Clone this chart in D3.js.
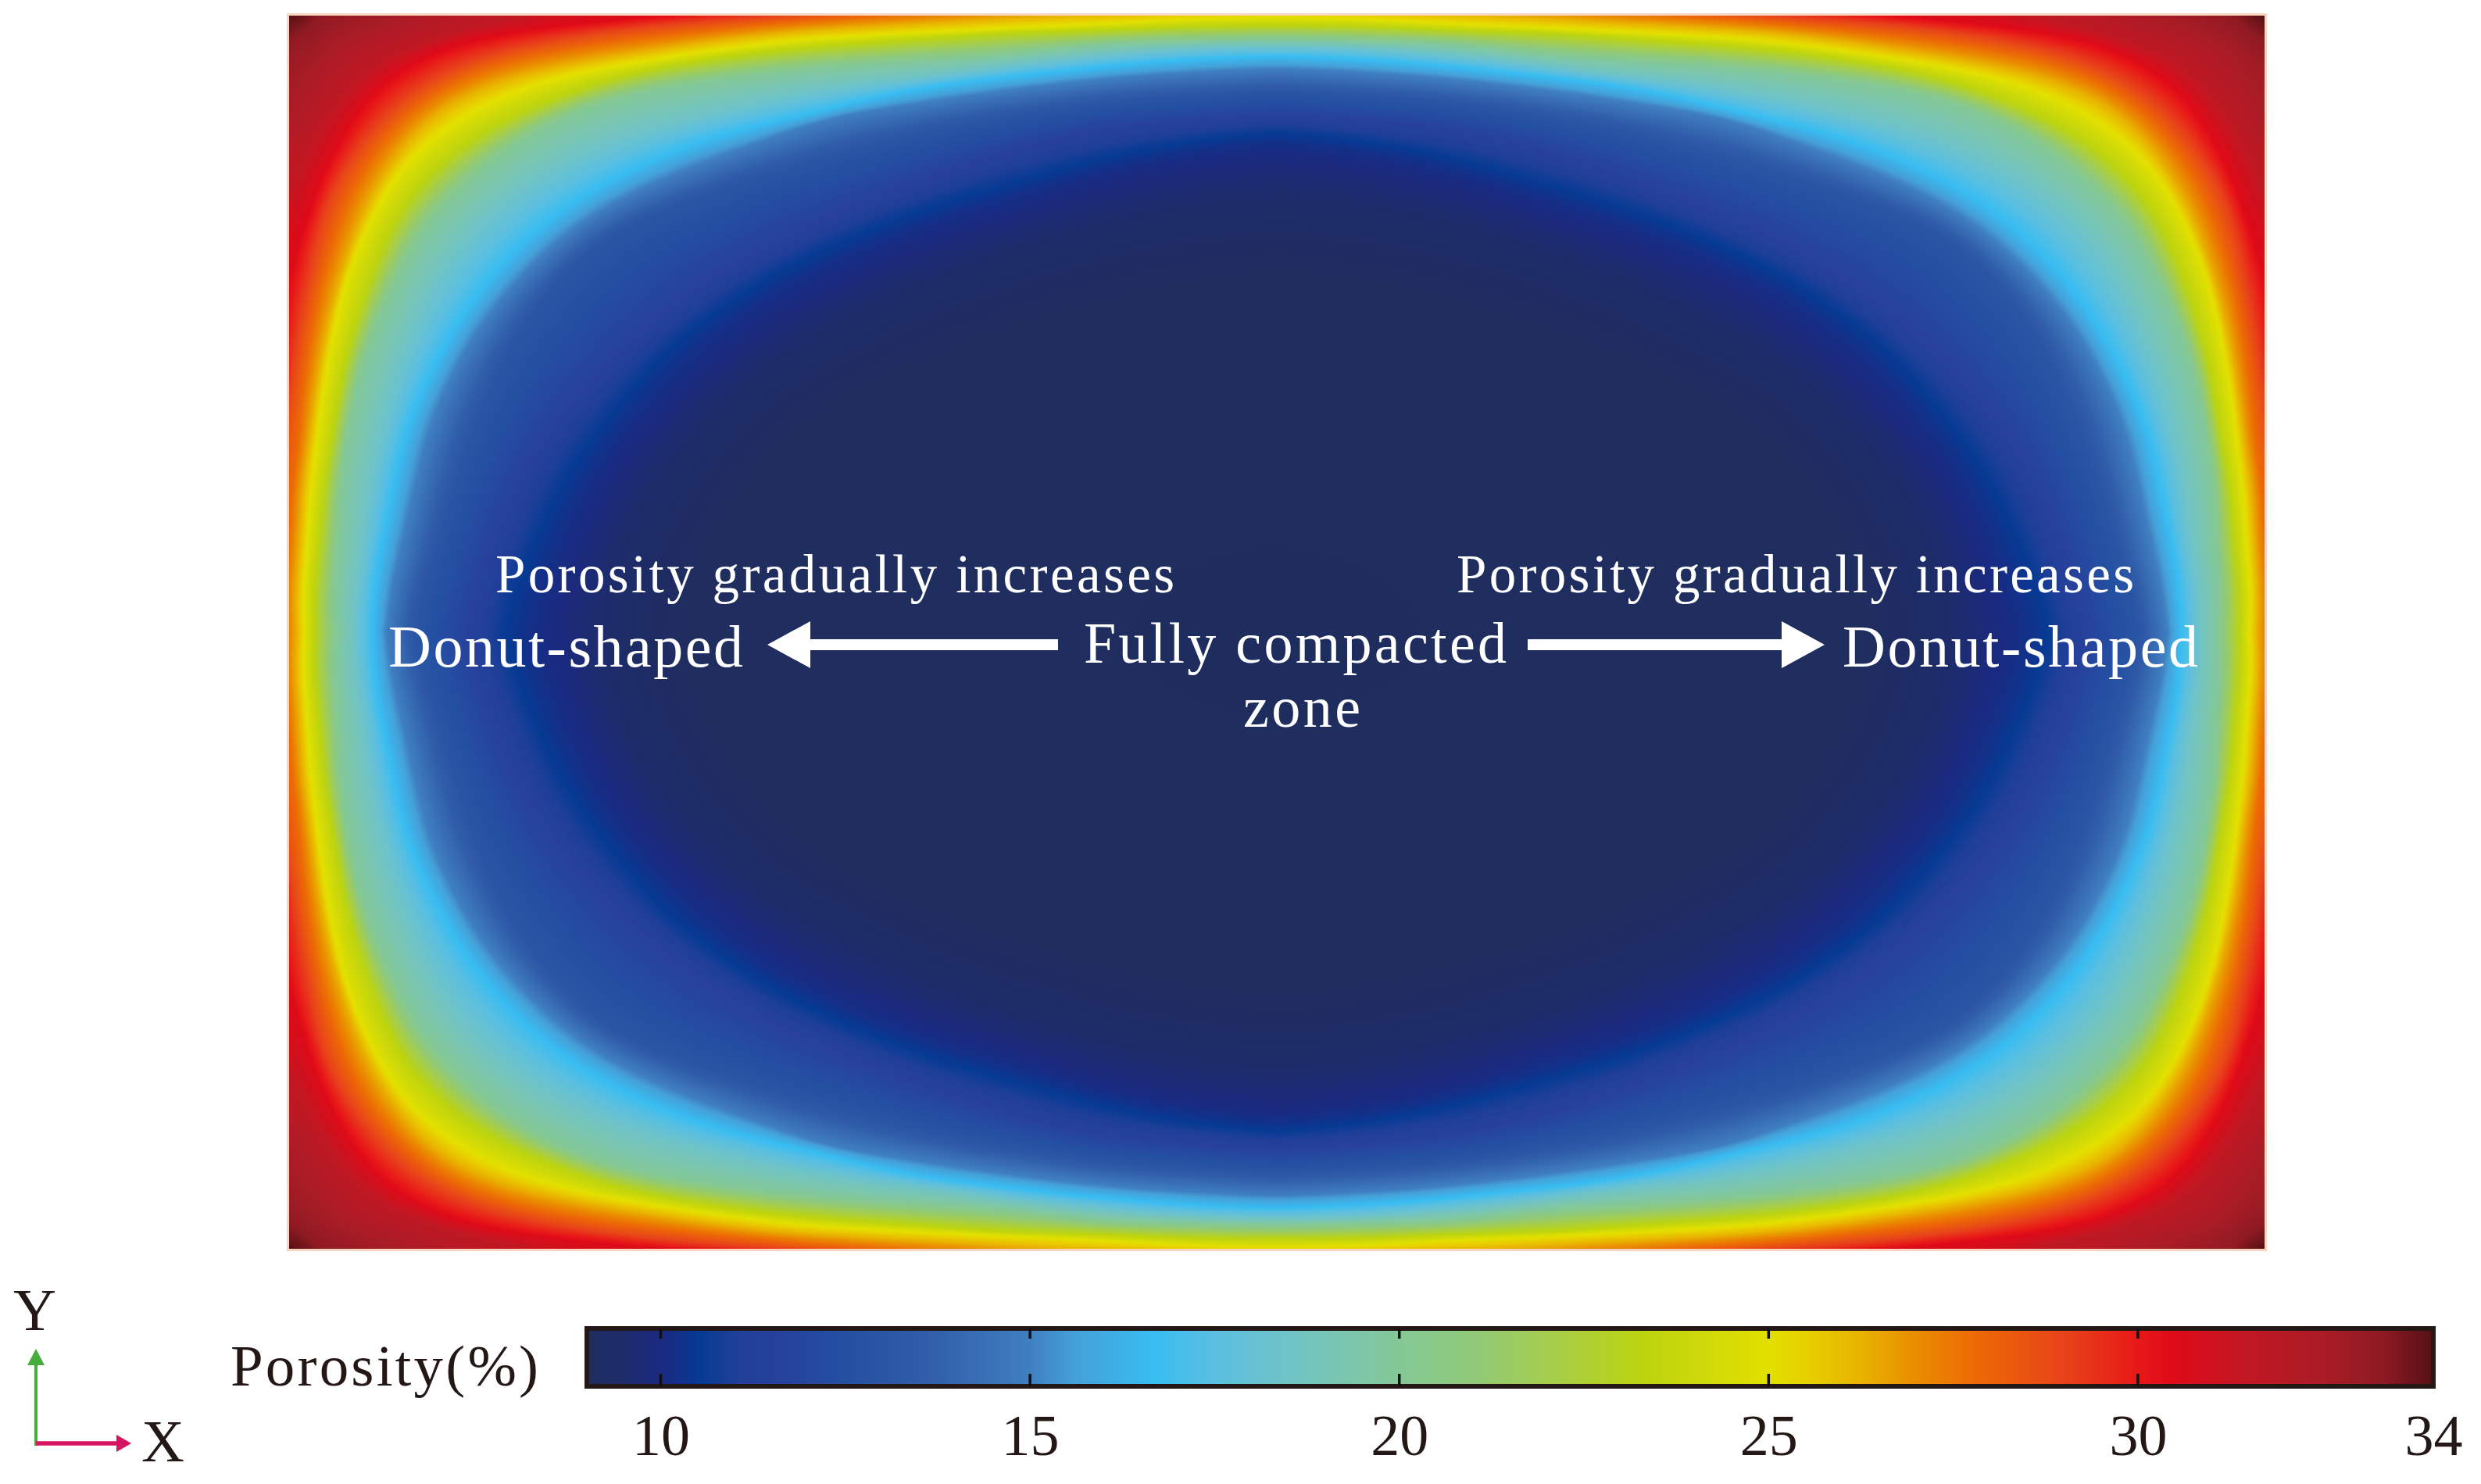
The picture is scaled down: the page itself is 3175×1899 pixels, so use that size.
<!DOCTYPE html>
<html lang="en">
<head>
<meta charset="utf-8">
<title>Porosity distribution</title>
<script src="https://d3js.org/d3.v7.min.js"></script>
<style>
  html, body { margin: 0; background: #fff; }
  #wrap { position: relative; width: 3175px; height: 1899px; overflow: hidden; }
  canvas, svg { position: absolute; left: 0; top: 0; }
  text { font-family: "Liberation Serif", "Times New Roman", serif; }
</style>
</head>
<body>
<div id="wrap"></div>
<script>
// colour bar
const colorValues = [9, 9.5, 10, 10.25, 10.5, 11, 11.6, 12.5, 13.5, 14.5, 15, 15.6, 16.7, 17.5, 18.4, 19.5, 20, 21, 22, 23.3, 24, 25, 25.5, 26.3, 27, 27.8, 29, 30, 30.5, 31.5, 32.5, 33.3, 34];
const colorHexes = ["#1f2d5e", "#1e2b6c", "#1a2a80", "#142f88", "#063a93", "#1e3f98", "#27409b", "#2450a2", "#2f5ba8", "#3a72b8", "#3f7fc0", "#45a0d8", "#38bdf2", "#5bbfe0", "#6ec3c9", "#7fc7a8", "#84c896", "#90c978", "#a5cd4e", "#bcd40f", "#ccd80a", "#e2e000", "#e8d000", "#e9b000", "#ea8c00", "#ec6a05", "#e8421a", "#e81818", "#de0a18", "#c01823", "#aa1c26", "#8f1a22", "#551015"];
const tickValues = [10, 15, 20, 25, 30, 34];

// porosity contours of the upper left quarter, [x, y] from the plot corner,
// running from top centre round to left centre. the field mirrors about both centre lines
const iso9_05 = [[1265,330],[1000,380],[800,450],[650,530],[560,640],[510,789]];
const iso9_4 = [[1265,235],[1130,250],[1000,280],[850,330],[700,400],[600,460],[520,540],[460,620],[425,700],[410,789]];
const iso10 = [[1265,177],[1130,192],[1030,215],[930,250],[797,292],[700,335],[640,365],[590,400],[500,480],[460,520],[400,610],[365,690],[340,770],[335,789]];
const iso10_5 = [[1265,150],[1130,165],[1030,186],[930,214],[797,255],[697,295],[640,322],[596,347],[547,380],[487,427],[457,458],[417,507],[357,590],[317,673],[284,757],[277,789]];
const iso11_6 = [[1265,128],[1163,135],[1030,148],[930,172],[857,195],[730,242],[630,285],[551,330],[484,378],[404,450],[344,517],[317,557],[270,657],[244,740],[230,789]];
const iso13 = [[1265,97],[1163,103],[1030,113],[930,128],[830,145],[730,170],[630,197],[507,240],[430,270],[365,318],[320,370],[272,445],[245,505],[215,590],[190,680],[160,789]];
const iso15 = [[1265,68],[1163,73],[1030,83],[930,95],[797,115],[697,130],[597,165],[513,195],[430,232],[374,265],[324,307],[277,357],[244,400],[210,460],[184,517],[164,597],[147,673],[127,773],[124,789]];
const iso16_7 = [[1265,52],[1147,57],[1030,67],[930,78],[830,90],[763,102],[697,118],[642,132],[563,150],[497,172],[441,196],[385,225],[340,255],[290,300],[238,360],[204,413],[184,453],[157,513],[140,573],[130,630],[114,707],[107,789]];
const iso18_4 = [[1265,40],[1030,52],[930,63],[830,78],[730,88],[630,105],[530,128],[430,155],[350,190],[274,240],[224,290],[190,340],[167,390],[140,457],[120,527],[107,590],[97,673],[84,789]];
const iso20 = [[1265,30],[1163,33],[1030,37],[930,50],[830,57],[730,63],[630,72],[530,85],[430,102],[373,120],[283,167],[221,220],[190,250],[164,285],[134,345],[107,407],[87,473],[77,527],[68,590],[64,673],[60,789]];
const iso23_3 = [[1265,13],[1163,14],[1030,20],[913,23],[797,32],[697,38],[597,48],[513,60],[430,75],[359,98],[248,147],[185,197],[147,240],[120,297],[90,380],[70,453],[59,527],[47,590],[40,673],[32,789]];
const iso25 = [[1265,2],[1163,5],[1030,12],[913,17],[797,23],[697,28],[597,37],[513,50],[430,62],[328,83],[261,107],[194,147],[149,187],[114,245],[87,300],[67,363],[54,427],[42,500],[34,570],[25,673],[20,789]];
const iso26_3 = [[1265,-8],[1100,-3],[913,5],[797,12],[697,17],[597,25],[513,37],[430,50],[328,67],[248,90],[185,123],[136,180],[97,247],[70,323],[44,427],[30,527],[22,573],[15,673],[10,789]];
const iso27_8 = [[1265,-20],[900,-8],[763,1],[697,5],[597,13],[513,22],[430,32],[328,47],[248,67],[185,97],[131,147],[85,213],[55,297],[27,427],[15,527],[9,573],[1,673],[-6,789]];
const iso29 = [[1265,-40],[900,-25],[663,0],[597,3],[513,10],[430,17],[328,33],[248,50],[185,77],[131,117],[95,160],[70,200],[47,240],[35,300],[24,350],[10,430],[0,500],[-15,789]];
const iso30_5 = [[1265,-70],[700,-15],[470,2],[328,15],[239,28],[172,50],[127,78],[92,113],[65,160],[42,205],[27,245],[17,290],[0,330],[-8,407],[-14,520],[-20,789]];
const iso31_5 = [[300,0],[200,25],[125,55],[85,85],[50,130],[20,180],[0,225]];
const iso32_5 = [[150,0],[100,20],[60,37],[30,70],[10,105],[0,130]];
const iso33_3 = [[40,0],[25,15],[12,25],[0,33]];
const iso34 = [[0.5,0],[0,0.5]];

const isoLevels = [9.05, 9.4, 10, 10.5, 11.6, 13, 15, 16.7, 18.4, 20, 23.3, 25, 26.3, 27.8, 29, 30.5, 31.5, 32.5, 33.3, 34];
const isoLines = [iso9_05, iso9_4, iso10, iso10_5, iso11_6, iso13, iso15, iso16_7, iso18_4, iso20, iso23_3, iso25, iso26_3, iso27_8, iso29, iso30_5, iso31_5, iso32_5, iso33_3, iso34];

const width = 3175;
const height = 1899;
const plot = { left: 370, top: 20, width: 2528, height: 1578 };
const halfW = 1265.5;
const halfH = 789;

const color = d3.scaleLinear().domain(colorValues).range(colorHexes).clamp(true);
const xField = d3.scaleLinear().domain([plot.left, plot.left + plot.width]).range([0, 2 * halfW]);
const yField = d3.scaleLinear().domain([plot.top, plot.top + plot.height]).range([0, 2 * halfH]);

// ray table: for every angle from the plot centre, the radius of each contour
const step = 0.05;
const nRays = Math.round(90 / step) + 1;
const polar = (x, y) => {
  const a = (halfW - x) / halfW, b = (halfH - y) / halfH;
  return [Math.atan2(b, a) * 180 / Math.PI, Math.hypot(a, b)];
};
const rayRadii = isoLines.map((line, k) => {
  const pts = line.map(p => polar(p[0], p[1])).sort((p, q) => p[0] - q[0]);
  const r = d3.scaleLinear().domain(pts.map(p => p[0])).range(pts.map(p => p[1])).clamp(true);
  const raw = d3.range(nRays).map(i => r(i * step));
  // soften the corners of the hand read lines, the window shrinks at the centre lines to keep the cusp
  const smooth = isoLevels[k] > 31 ? 6 : 60;
  return raw.map((_, i) => {
    const s = Math.min(smooth, i, nRays - 1 - i);
    return d3.mean(raw.slice(i - s, i + s + 1));
  });
});
for (let i = 0; i < nRays; i++) {
  for (let k = 1; k < rayRadii.length; k++) {
    rayRadii[k][i] = Math.max(rayRadii[k][i], rayRadii[k - 1][i] + 1e-4);
  }
}

function porosity(x, y) {
  const [theta, r] = polar(x, y);
  const i = Math.round(Math.max(0, theta) / step);
  if (r <= rayRadii[0][i]) return 9 + (isoLevels[0] - 9) * r / rayRadii[0][i];
  for (let k = 1; k < isoLevels.length; k++) {
    const hi = rayRadii[k][i];
    if (r <= hi) {
      const lo = rayRadii[k - 1][i];
      return isoLevels[k - 1] + (isoLevels[k] - isoLevels[k - 1]) * (r - lo) / (hi - lo);
    }
  }
  return 34;
}

const wrap = d3.select("#wrap");

// heat map
const canvas = wrap.append("canvas").attr("width", width).attr("height", height);
const ctx = canvas.node().getContext("2d");
const lut = d3.range(1001).map(i => d3.rgb(color(9 + 25 * i / 1000)));
const img = ctx.createImageData(plot.width, plot.height);
for (let py = 0; py < plot.height; py++) {
  const fy = yField(plot.top + py + 0.5);
  const y = Math.min(fy, 2 * halfH - fy);
  for (let px = 0; px < plot.width; px++) {
    const fx = xField(plot.left + px + 0.5);
    const x = Math.min(fx, 2 * halfW - fx);
    const c = lut[Math.round((porosity(x, y) - 9) / 25 * 1000)];
    const o = (py * plot.width + px) * 4;
    img.data[o] = c.r; img.data[o + 1] = c.g; img.data[o + 2] = c.b; img.data[o + 3] = 255;
  }
}
ctx.putImageData(img, plot.left, plot.top);

const svg = wrap.append("svg").attr("width", width).attr("height", height);

svg.append("rect")
  .attr("x", plot.left - 1.5).attr("y", plot.top - 1.5)
  .attr("width", plot.width + 3).attr("height", plot.height + 3)
  .attr("fill", "none").attr("stroke", "#f6b48c").attr("stroke-width", 3).attr("opacity", 0.55);

// annotations
const labels = [
  { t: "Porosity gradually increases", x0: 634, x1: 1503, y: 758, size: 69 },
  { t: "Porosity gradually increases", x0: 1864, x1: 2731, y: 758, size: 69 },
  { t: "Donut-shaped", x0: 497, x1: 951, y: 853, size: 76 },
  { t: "Donut-shaped", x0: 2358, x1: 2813, y: 853, size: 76 },
  { t: "Fully compacted", x0: 1387, x1: 1928, y: 848, size: 74 },
  { t: "zone", x0: 1591, x1: 1741, y: 930, size: 74 }
];
svg.append("g").selectAll("text").data(labels).join("text")
  .attr("x", d => d.x0).attr("y", d => d.y)
  .attr("textLength", d => d.x1 - d.x0).attr("lengthAdjust", "spacing")
  .attr("font-size", d => d.size).attr("fill", "#fff")
  .text(d => d.t);

const arrowY = 825;
const arrows = [
  { from: 1354, base: 1037, tip: 982 },
  { from: 1955, base: 2280, tip: 2335 }
];
const arrowG = svg.append("g").attr("fill", "#fff");
arrowG.selectAll("rect").data(arrows).join("rect")
  .attr("x", d => Math.min(d.from, d.base)).attr("y", arrowY - 7)
  .attr("width", d => Math.abs(d.base - d.from)).attr("height", 14);
arrowG.selectAll("path").data(arrows).join("path")
  .attr("d", d => `M${d.tip},${arrowY}L${d.base},${arrowY - 30}L${d.base},${arrowY + 30}Z`);

// colour bar
const legend = { x0: 751, x1: 3114, top: 1700, bottom: 1774 };
const xLegend = d3.scaleLinear().domain([9, 34]).range([legend.x0, legend.x1]);
const grad = svg.append("defs").append("linearGradient").attr("id", "bar");
grad.selectAll("stop").data(colorValues).join("stop")
  .attr("offset", d => (d - 9) / 25)
  .attr("stop-color", d => color(d));
svg.append("rect")
  .attr("x", legend.x0).attr("y", legend.top)
  .attr("width", legend.x1 - legend.x0).attr("height", legend.bottom - legend.top)
  .attr("fill", "url(#bar)").attr("stroke", "#231815").attr("stroke-width", 6);

const inner = tickValues.filter(d => d < 34);
svg.append("g").selectAll("line").data(inner.flatMap(d => [[d, legend.top, legend.top + 13], [d, legend.bottom - 16, legend.bottom]])).join("line")
  .attr("x1", d => xLegend(d[0])).attr("x2", d => xLegend(d[0]))
  .attr("y1", d => d[1]).attr("y2", d => d[2])
  .attr("stroke", "#111").attr("stroke-width", 3.5);

const axis = svg.append("g")
  .attr("transform", `translate(0,${legend.bottom + 2})`)
  .call(d3.axisBottom(xLegend).tickValues(tickValues).tickSize(0).tickPadding(33));
axis.select(".domain").remove();
axis.selectAll("text")
  .attr("font-family", "'Liberation Serif', serif")
  .attr("font-size", 74).attr("fill", "#231815");

const dark = "#231815";
svg.append("text").attr("x", 295).attr("y", 1773).attr("textLength", 394).attr("lengthAdjust", "spacing")
  .attr("font-size", 75).attr("fill", dark).text("Porosity(%)");
svg.append("text").attr("x", 17).attr("y", 1702).attr("font-size", 76).attr("fill", dark).text("Y");
svg.append("text").attr("x", 181).attr("y", 1870).attr("font-size", 76).attr("fill", dark).text("X");

// coordinate arrows
svg.append("line").attr("x1", 46).attr("x2", 46).attr("y1", 1850).attr("y2", 1745)
  .attr("stroke", "#45ad3c").attr("stroke-width", 4);
svg.append("path").attr("d", "M46,1726L35,1747L57,1747Z").attr("fill", "#45ad3c");
svg.append("line").attr("x1", 46).attr("x2", 150).attr("y1", 1847).attr("y2", 1847)
  .attr("stroke", "#d6145f").attr("stroke-width", 5.5);
svg.append("path").attr("d", "M168,1847L149,1836L149,1858Z").attr("fill", "#d6145f");
</script>
</body>
</html>
